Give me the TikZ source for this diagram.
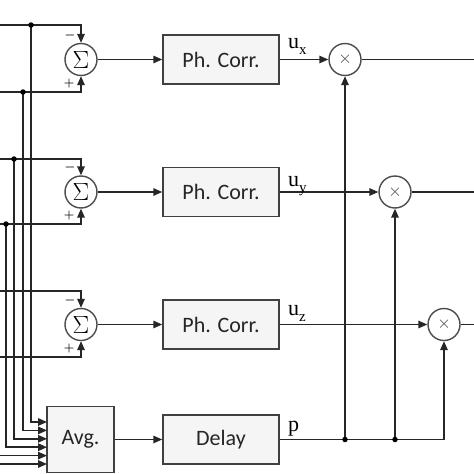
\documentclass[tikz,border=0pt]{standalone}
\usepackage{fontspec}
\newfontfamily\blockfont{Carlito}
\newfontfamily\lblfont{Liberation Serif}
\usetikzlibrary{arrows.meta,calc}
\newcommand{\ulbl}[1]{\lblfont u\raisebox{-0.28em}{\fontsize{15}{17}\selectfont #1}}
\begin{document}
\begin{tikzpicture}[x=1pt,y=-1pt,
 wire/.style={line width=1.5pt, draw=black!85},
 arr/.style={wire,-{Triangle[length=9pt,width=7.5pt]}},
 blk/.style={draw=black!75, fill=black!4, line width=1.5pt, minimum width=116pt, minimum height=49pt, inner sep=0pt, font=\blockfont\fontsize{22}{26}\selectfont, text=black!85},
 sumc/.style={circle, draw=black!70, fill=white, line width=1.4pt, minimum size=32pt, inner sep=0pt, font=\fontsize{24}{28}\selectfont},
 mulc/.style={sumc, font=\fontsize{19}{22}\selectfont, text=black!75},
 dot/.style={circle, fill=black, inner sep=0pt, minimum size=5.5pt},
 lbl/.style={font=\fontsize{22}{26}\selectfont, anchor=base west, inner sep=0pt},
 sgn/.style={font=\fontsize{13}{15}\selectfont\boldmath, inner sep=0pt}]
\useasboundingbox (0,0) rectangle (474,474);

% summing junctions
\node[sumc] (s1) at (81,59.5) {$\Sigma$};
\node[sumc] (s2) at (81,192) {$\Sigma$};
\node[sumc] (s3) at (81,324.5) {$\Sigma$};
\foreach \s in {s1,s2,s3}{
  \node[sgn] at ($(\s)+(-11,-24.5)$) {$-$};
  \node[sgn] at ($(\s)+(-12,23.5)$) {$+$};
}

% blocks
\node[blk] (pc1) at (221,59.5) {Ph. Corr.};
\node[blk] (pc2) at (221,192) {Ph. Corr.};
\node[blk] (pc3) at (221,324.5) {Ph. Corr.};
\node[blk, minimum width=67pt, minimum height=66pt] (avg) at (80.5,439.5) {Avg.};
\node[blk] (dl) at (221,439.5) {Delay};

% multipliers
\node[mulc] (m1) at (345,59.5) {$\times$};
\node[mulc] (m2) at (395,192) {$\times$};
\node[mulc] (m3) at (444,324.5) {$\times$};

% input coordinates
\coordinate (i1) at (0,25);
\coordinate (i2) at (0,92);
\coordinate (i3) at (0,159);
\coordinate (i4) at (0,224);
\coordinate (i5) at (0,291);
\coordinate (i6) at (0,357);
\coordinate (i7) at (0,455.6);
\coordinate (i8) at (0,464);
\coordinate (t1) at (31,25);
\coordinate (t2) at (23,92);
\coordinate (t3) at (14,159);
\coordinate (t4) at (6,224);
\coordinate (a1) at (47,422);
\coordinate (a2) at (47,430.4);
\coordinate (a3) at (47,438.8);
\coordinate (a4) at (47,447.2);
\coordinate (a5) at (47,455.6);
\coordinate (a6) at (47,464);

\draw[arr] (i1) -| (s1.north);
\draw[arr] (i2) -| (s1.south);
\draw[arr] (i3) -| (s2.north);
\draw[arr] (i4) -| (s2.south);
\draw[arr] (i5) -| (s3.north);
\draw[arr] (i6) -| (s3.south);

\draw[arr] (t1) |- (a1);
\draw[arr] (t2) |- (a2);
\draw[arr] (t3) |- (a3);
\draw[arr] (t4) |- (a4);
\draw[arr] (i7) -- (a5);
\draw[arr] (i8) -- (a6);
\foreach \t in {t1,t2,t3,t4} \node[dot] at (\t) {};

% forward path
\draw[arr] (s1.east) -- (pc1.west);
\draw[arr] (s2.east) -- (pc2.west);
\draw[arr] (s3.east) -- (pc3.west);
\draw[arr] (avg.east) -- (dl.west);
\draw[arr] (pc1.east) -- (m1.west);
\draw[arr] (pc2.east) -- (m2.west);
\draw[arr] (pc3.east) -- (m3.west);

% p distribution
\coordinate (pj1) at (345,439.5);
\coordinate (pj2) at (395,439.5);
\draw[arr] (dl.east) -| (m3.south);
\draw[arr] (pj1) -- (m1.south);
\draw[arr] (pj2) -- (m2.south);
\node[dot] at (pj1) {};
\node[dot] at (pj2) {};

% outputs
\coordinate (o1) at (474,59.5);
\coordinate (o2) at (474,192);
\coordinate (o3) at (474,324.5);
\draw[wire] (m1.east) -- (o1);
\draw[wire] (m2.east) -- (o2);
\draw[wire] (m3.east) -- (o3);

% labels
\node[lbl] at (288,48) {\ulbl{x}};
\node[lbl] at (288,186) {\ulbl{y}};
\node[lbl] at (288,315) {\ulbl{z}};
\node[lbl] at (288,431) {\lblfont p};
\end{tikzpicture}
\end{document}
